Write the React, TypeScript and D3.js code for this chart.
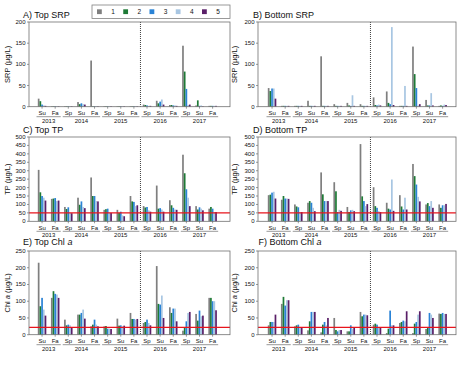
import React from "react";
import * as d3 from "d3";

const seasons = ["Su", "Fa", "Sp", "Su", "Fa", "Sp", "Su", "Fa", "Sp", "Su", "Fa", "Sp", "Su", "Fa"];
const years = ["2013", "2014", "2015", "2016", "2017"];
const yearOfGroup = [0, 0, 1, 1, 1, 2, 2, 2, 3, 3, 3, 4, 4, 4];
const sites = ["1", "2", "3", "4", "5"];
const siteColors = ["#7f7f7f", "#1e7a36", "#2a83d6", "#a8c6e2", "#5a1f68"];

// one row per site, one value per season group
const topSRP = [
  [19, 1, 1, 11, 109, 1, 1, 1, 5, 14, 4, 144, 3, 2],
  [13, 1, 1, 6, 1, 1, 1, 1, 4, 8, 4, 83, 15, 2],
  [5, 1, 1, 8, 1, 1, 1, 1, 3, 12, 3, 42, 2, 2],
  [3, 1, 1, 6, 1, 1, 1, 1, 2, 17, 3, 4, 3, 2],
  [2, 1, 1, 5, 1, 1, 1, 1, 2, 5, 2, 5, 1, 2],
];
const bottomSRP = [
  [44, 2, 2, 14, 119, 6, 9, 6, 22, 36, 2, 142, 16, 2],
  [37, 2, 2, 2, 2, 2, 3, 2, 4, 9, 2, 77, 3, 3],
  [43, 2, 2, 2, 2, 2, 2, 2, 3, 6, 2, 44, 3, 2],
  [43, 2, 2, 2, 2, 2, 27, 2, 5, 188, 49, 3, 32, 5],
  [19, 2, 2, 2, 2, 2, 2, 2, 3, 4, 2, 6, 3, 4],
];
const topTP = [
  [305, 133, 85, 140, 260, 68, 68, 150, 90, 212, 125, 395, 90, 75],
  [172, 135, 73, 98, 150, 72, 50, 118, 82, 75, 95, 285, 70, 85],
  [150, 138, 83, 118, 150, 75, 57, 115, 85, 78, 80, 190, 83, 75],
  [140, 120, 50, 85, 120, 50, 35, 90, 65, 70, 70, 140, 75, 55],
  [123, 123, 48, 78, 118, 50, 30, 95, 57, 57, 68, 90, 65, 55],
];
const bottomTP = [
  [155, 128, 100, 110, 290, 232, 85, 458, 202, 110, 155, 340, 100, 100],
  [158, 150, 88, 120, 160, 178, 55, 148, 90, 75, 88, 268, 108, 80],
  [170, 135, 83, 110, 120, 55, 65, 120, 80, 70, 70, 218, 90, 95],
  [175, 135, 55, 80, 120, 68, 68, 90, 60, 248, 140, 145, 120, 95],
  [135, 133, 55, 60, 120, 62, 60, 102, 55, 62, 70, 118, 80, 103],
];
const topChl = [
  [215, 110, 45, 60, 25, 25, 48, 65, 35, 205, 82, 12, 62, 110],
  [85, 130, 28, 60, 30, 26, 27, 47, 38, 92, 65, 20, 42, 110],
  [110, 122, 30, 65, 45, 18, 28, 47, 45, 90, 78, 40, 72, 100],
  [75, 120, 28, 75, 30, 18, 25, 45, 35, 117, 78, 65, 55, 100],
  [57, 110, 20, 48, 25, 17, 27, 47, 28, 50, 40, 68, 57, 73],
];
const bottomChl = [
  [28, 92, 25, 13, 7, 50, 10, 68, 30, 5, 35, 5, 17, 63],
  [38, 113, 28, 40, 30, 14, 10, 55, 33, 18, 38, 33, 20, 62],
  [38, 87, 30, 68, 38, 10, 28, 60, 30, 72, 42, 38, 65, 65],
  [38, 103, 22, 68, 28, 14, 18, 60, 22, 28, 40, 60, 60, 62],
  [60, 103, 20, 68, 50, 14, 20, 58, 20, 28, 70, 70, 50, 62],
];

const tpLimit = 50;
const chlLimit = 22;

const font = "Arial, 'Liberation Sans', sans-serif";
const groups = seasons.map((_, i) => String(i));

type PanelProps = {
  left: number;
  right: number;
  top: number;
  bottom: number;
  max: number;
  series: number[][];
  title: React.ReactNode;
  titleX: number;
  titleY: number;
  label: React.ReactNode;
  labelX: number;
  limit?: number;
};

function Panel({ left, right, top, bottom, max, series, title, titleX, titleY, label, labelX, limit }: PanelProps) {
  const start = left + (left > 100 ? 7.5 : 6.5);
  const x = d3.scaleBand().domain(groups).range([start, start + 14 * 13.12]);
  const inner = d3.scaleBand().domain(sites).range([2.3, x.bandwidth() - 2.3]);
  const y = d3.scaleLinear().domain([0, max]).range([bottom, top]);
  const ticks = d3.range(0, max + 1, 50);
  const divider = x("8")!;

  const yearSpans = years.map((yr, k) => {
    const idx = yearOfGroup.map((g, i) => (g === k ? i : -1)).filter((i) => i >= 0);
    const a = x(String(idx[0]))!;
    const b = x(String(idx[idx.length - 1]))! + x.bandwidth();
    return { yr, a: a + 1, b: b - 1 };
  });

  return (
    <g fontFamily={font}>
      <text x={titleX} y={titleY} fontSize={9} fill="#111">{title}</text>
      <text
        transform={`translate(${labelX},${(top + bottom) / 2}) rotate(-90)`}
        textAnchor="middle"
        fontSize={7.5}
        fill="#111"
      >
        {label}
      </text>
      {ticks.map((t) => (
        <g key={t}>
          <line x1={left - 2} x2={left} y1={y(t)} y2={y(t)} stroke="#555" strokeWidth={0.6} />
          <text x={left - 3.5} y={y(t) + 2} textAnchor="end" fontSize={6} fill="#111">{t}</text>
        </g>
      ))}
      {series.map((vals, s) =>
        vals.map((v, i) => (
          <rect
            key={`${s}-${i}`}
            x={x(String(i))! + inner(sites[s])!}
            y={y(v)}
            width={inner.bandwidth()}
            height={bottom - y(v)}
            fill={siteColors[s]}
          />
        ))
      )}
      {limit !== undefined && (
        <line x1={left} x2={right} y1={y(limit)} y2={y(limit)} stroke="#e8141c" strokeWidth={1.3} />
      )}
      <line x1={divider} x2={divider} y1={top} y2={bottom} stroke="#111" strokeWidth={0.8} strokeDasharray="1,1" />
      <rect x={left} y={top} width={right - left} height={bottom - top} fill="none" stroke="#707070" strokeWidth={0.8} />
      {groups.map((g, i) => (
        <g key={g}>
          <line
            x1={x(g)! + x.bandwidth() / 2}
            x2={x(g)! + x.bandwidth() / 2}
            y1={bottom}
            y2={bottom + 2}
            stroke="#555"
            strokeWidth={0.6}
          />
          <text x={x(g)! + x.bandwidth() / 2} y={bottom + 8.5} textAnchor="middle" fontSize={6} fill="#111">
            {seasons[i]}
          </text>
        </g>
      ))}
      {yearSpans.map((d) => (
        <g key={d.yr}>
          <line x1={d.a} x2={d.b} y1={bottom + 10} y2={bottom + 10} stroke="#333" strokeWidth={0.5} />
          <text x={(d.a + d.b) / 2} y={bottom + 16} textAnchor="middle" fontSize={6} fill="#111">{d.yr}</text>
        </g>
      ))}
    </g>
  );
}

function Legend() {
  const lx = d3.scalePoint().domain(sites).range([97, 202]);
  return (
    <g fontFamily={font}>
      <rect x={92} y={5} width={138} height={13.5} fill="#fff" stroke="#808080" strokeWidth={0.8} />
      {sites.map((s, i) => (
        <g key={s}>
          <rect x={lx(s)!} y={9.3} width={4.8} height={4.8} fill={siteColors[i]} />
          <text x={lx(s)! + 16} y={14} fontSize={6.5} textAnchor="middle" fill="#111">{s}</text>
        </g>
      ))}
    </g>
  );
}

const ugL = " (\u00b5g/L)";

export default function App() {
  const L = { left: 29, right: 230 };
  const R = { left: 258, right: 456 };
  const rowA = { top: 22, bottom: 106.7 };
  const rowC = { top: 137, bottom: 221.3 };
  const rowE = { top: 251, bottom: 334.7 };
  const chl = (
    <>
      Chl <tspan fontStyle="italic">a</tspan>
    </>
  );
  return (
    <svg width={474} height={367} style={{ position: "absolute", left: 0, top: 0, background: "#fff" }}>
      <Panel {...L} {...rowA} max={200} series={topSRP} title="A) Top SRP" titleX={23} titleY={17.5}
        label={"SRP" + ugL} labelX={10} />
      <Panel {...R} {...rowA} max={200} series={bottomSRP} title="B) Bottom SRP" titleX={253} titleY={17.5}
        label={"SRP" + ugL} labelX={237} />
      <Panel {...L} {...rowC} max={500} series={topTP} title="C) Top TP" titleX={23} titleY={132.8}
        label={"TP" + ugL} labelX={10} limit={tpLimit} />
      <Panel {...R} {...rowC} max={500} series={bottomTP} title="D) Bottom TP" titleX={253} titleY={132.8}
        label={"TP" + ugL} labelX={237} limit={tpLimit} />
      <Panel {...L} {...rowE} max={250} series={topChl} title={<>E) Top {chl}</>} titleX={23} titleY={245}
        label={<>{chl}{ugL}</>} labelX={10} limit={chlLimit} />
      <Panel {...R} {...rowE} max={250} series={bottomChl} title={<>F) Bottom {chl}</>} titleX={258.5} titleY={245}
        label={<>{chl}{ugL}</>} labelX={237} limit={chlLimit} />
      <Legend />
    </svg>
  );
}
